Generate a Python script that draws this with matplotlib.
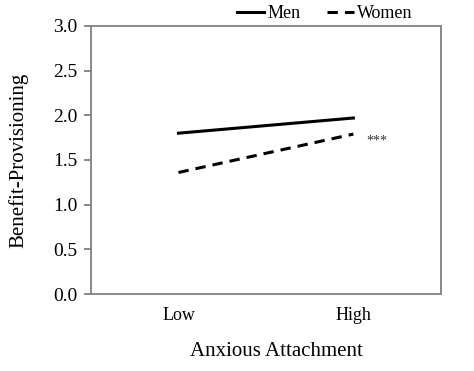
import matplotlib.pyplot as plt

groups = ["Low", "High"]
men = [1.80, 1.97]
women = [1.36, 1.79]

plt.rcParams['font.family'] = ['Liberation Serif', 'DejaVu Serif']

fig = plt.figure(figsize=(4.74, 3.71), dpi=100)
ax = fig.add_axes([0.192, 0.2075, 0.738, 0.7225])

x = range(len(groups))
ax.plot(x, men, color='black', lw=2.2, label='Men')
ax.plot(x, women, color='black', lw=2.2, dashes=(3.4, 2.3), label='Women')
ax.annotate('***', xy=(x[-1], women[-1]), xytext=(9, -5), textcoords='offset points',
            fontsize=10, color='#333333', va='center', ha='left')

ax.set_xlim(-0.5, 1.5)
ax.set_ylim(0, 3)
ax.set_yticks([0, 0.5, 1.0, 1.5, 2.0, 2.5, 3.0])
ax.set_yticklabels([f"{v:.1f}" for v in ax.get_yticks()])
ax.set_xticks(list(x))
ax.set_xticklabels(groups)

for s in ax.spines.values():
    s.set_color('#808080')
    s.set_linewidth(1.3)
ax.tick_params(axis='y', length=5, width=1.3, color='#808080', labelsize=14, pad=5)
ax.tick_params(axis='x', length=0, labelsize=13, pad=9)

ax.set_ylabel("Benefit-Provisioning", fontsize=15)
ax.yaxis.set_label_coords(-0.18, 0.5)
ax.set_xlabel("Anxious Attachment", fontsize=15)
ax.xaxis.set_label_coords(0.53, -0.18)

ax.legend(loc='lower center', bbox_to_anchor=(0.669, 1.015), ncol=2, frameon=False,
          fontsize=13, handlelength=1.5, handletextpad=0.15, columnspacing=1.5,
          borderaxespad=0, borderpad=0)

fig.savefig("out.png", dpi=100)
